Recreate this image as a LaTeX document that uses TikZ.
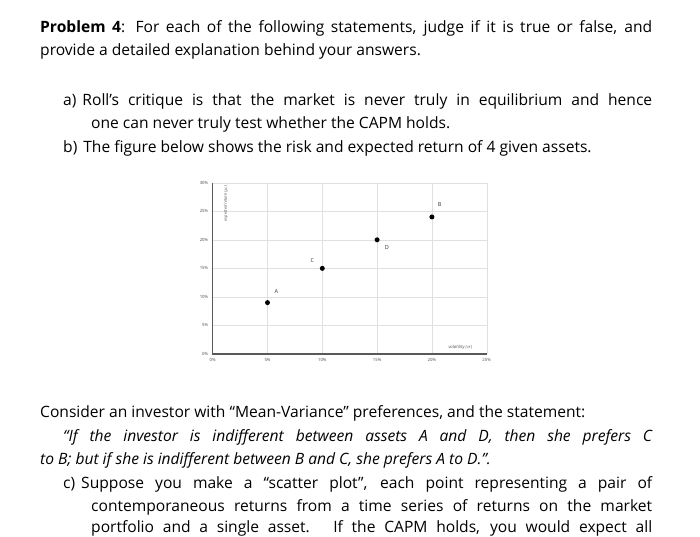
\documentclass[tikz,border=0pt]{standalone}
\usepackage{fontspec}
\setmainfont{Open Sans}
\begin{document}
\begin{tikzpicture}[x=1pt,y=-1pt,
  txt/.style={anchor=base west,inner sep=0pt,font=\fontsize{15.6}{18}\selectfont},
  tick/.style={font=\fontsize{4.3}{5}\selectfont,text=black!70,inner sep=1pt},
  grid/.style={draw=black!12,line width=0.4pt},
  axis/.style={draw=black!65,line width=1.2pt},
  dot/.style={circle,fill=black,inner sep=0pt,minimum size=5pt},
  lab/.style={font=\fontsize{5.5}{6}\selectfont,text=black!80,inner sep=0pt}]
\useasboundingbox (0,0) rectangle (700,536);
\fill[white] (0,0) rectangle (700,536);
% text
\node[txt] (t1) at (40,32) {\makebox[612pt][s]{\textbf{Problem 4}: For each of the following statements, judge if it is true or false, and}};
\node[txt] (t2) at (40,55) {provide a detailed explanation behind your answers.};
\node[txt] (t3) at (63,105) {\makebox[589pt][s]{a)\hspace{6pt}Roll’s critique is that the market is never truly in equilibrium and hence}};
\node[txt] (t4) at (91,128) {one can never truly test whether the CAPM holds.};
\node[txt] (t5) at (63,152) {b)\hspace{6pt}The figure below shows the risk and expected return of 4 given assets.};
\node[txt] (t6) at (40,417) {Consider an investor with “Mean-Variance” preferences, and the statement:};
\node[txt] (t7) at (63,441) {\makebox[589pt][s]{\itshape “If the investor is indifferent between assets A and D, then she prefers C}};
\node[txt] (t8) at (40,464) {\itshape to B; but if she is indifferent between B and C, she prefers A to D.”.};
\node[txt] (t9) at (63,488) {\makebox[589pt][s]{c)\hspace{6pt}Suppose you make a “scatter plot”, each point representing a pair of}};
\node[txt] (t10) at (91,511) {\makebox[561pt][s]{contemporaneous returns from a time series of returns on the market}};
\node[txt] (t11) at (91,532) {\makebox[561pt][s]{portfolio and a single asset.\hspace{4pt} If the CAPM holds, you would expect all}};
% chart
\begin{scope}[shift={(212.7,354)},x=10.96pt,y=5.71pt]
\foreach \i in {5,10,15,20,25} \draw[grid] (\i,0) -- (\i,30);
\foreach \j in {5,10,...,30} \draw[grid] (0,\j) -- (25,\j);
\draw[axis] (0,30) -- (0,0) -- (25,0);
\foreach \i in {0,5,10,15,20,25} \node[tick,below] (xt\i) at (\i,-0.5) {\i\%};
\foreach \j in {0,5,10,...,30} \node[tick,left] (yt\j) at (-0.3,\j) {\j\%};
\node[dot] (A) at (5,9) {};
\node[dot] (C) at (10,15) {};
\node[dot] (D) at (15,20) {};
\node[dot] (B) at (20,24) {};
\node[lab] (lA) at (5.8,11) {A};
\node[lab] (lC) at (9.1,16.3) {C};
\node[lab] (lD) at (15.9,18.7) {D};
\node[lab] (lB) at (20.7,26.2) {B};
\node[font=\fontsize{4}{5}\selectfont\itshape,text=black!70,rotate=90,anchor=south east,inner sep=0pt] (yl) at (1.4,29.5) {expected return ($\mu$)};
\node[font=\fontsize{4.3}{5}\selectfont\itshape,text=black!70,inner sep=0pt] (xl) at (22.6,1.1) {volatility ($\sigma$)};
\end{scope}
\end{tikzpicture}
\end{document}
